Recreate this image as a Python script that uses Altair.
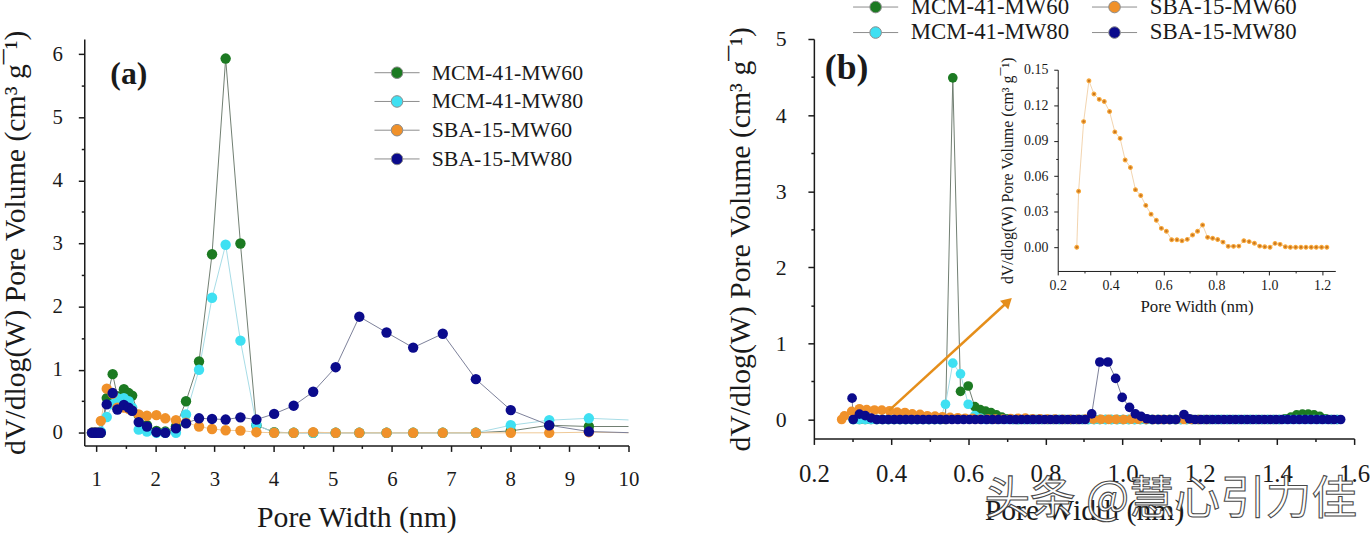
import altair as alt
import pandas as pd

# ---------------------------------------------------------------------------
# Series names and colours
# ---------------------------------------------------------------------------
SERIES = ["MCM-41-MW60", "MCM-41-MW80", "SBA-15-MW60", "SBA-15-MW80"]
MARKER_COLORS = ["#1c7a22", "#3fe0f2", "#f0912a", "#0b0b8c"]
LINE_COLORS = ["#6f7d70", "#a6dce6", "#efc896", "#7b8099"]

# ---------------------------------------------------------------------------
# Panel (a): pore size distribution, 1-10 nm
# ---------------------------------------------------------------------------
A_WIDTH = [0.93, 0.97, 1.00, 1.04, 1.08, 1.18, 1.28, 1.36, 1.47, 1.55,
           1.61, 1.72, 1.86, 2.02, 2.17, 2.35, 2.52, 2.74, 2.96, 3.19,
           3.44, 3.71, 4.01, 4.34, 4.67, 5.05, 5.45, 5.91, 6.36, 6.86,
           7.42, 8.01, 8.66, 9.33, 10.10]
A_MCM60 = [0, 0, 0, 0, 0, 0.55, 0.93, 0.58, 0.69, 0.63,
           0.59, 0.28, 0.12, 0.03, 0.02, 0.10, 0.50, 1.13, 2.83, 5.93,
           3.00, 0.12, 0.01, 0, 0, 0, 0, 0, 0, 0,
           0, 0.03, 0.12, 0.10, 0.10]
A_MCM80 = [0, 0, 0, 0, 0.02, 0.25, 0.45, 0.55, 0.55, 0.50,
           0.40, 0.05, 0.02, 0, 0, 0, 0.29, 1.00, 2.14, 2.98,
           1.46, 0.13, 0, 0, 0, 0, 0, 0, 0, 0,
           0, 0.12, 0.20, 0.23, 0.20]
A_SBA60 = [0, 0, 0, 0, 0.19, 0.70, 0.62, 0.40, 0.40, 0.38,
           0.35, 0.29, 0.27, 0.28, 0.23, 0.20, 0.16, 0.10, 0.06, 0.04,
           0.035, 0.01, 0, 0, 0.01, 0, 0, 0, 0, 0,
           0, 0, 0, 0.01, 0]
A_SBA80 = [0, 0, 0, 0, 0, 0.45, 0.63, 0.37, 0.44, 0.40,
           0.35, 0.17, 0.10, 0.01, 0, 0.07, 0.15, 0.23, 0.22, 0.21,
           0.245, 0.21, 0.30, 0.43, 0.65, 1.04, 1.84, 1.59, 1.35, 1.57,
           0.85, 0.36, 0.12, 0.02, 0]

# ---------------------------------------------------------------------------
# Panel (b): micropore region, 0.2-1.6 nm
# ---------------------------------------------------------------------------
B_MCM_WIDTH = [0.302, 0.318, 0.333, 0.348, 0.363, 0.378, 0.393, 0.408, 0.423, 0.438,
               0.453, 0.468, 0.483, 0.498, 0.513, 0.527, 0.541, 0.560, 0.580, 0.600,
               0.617, 0.631, 0.645, 0.659, 0.673, 0.687, 0.701, 0.716, 0.731, 0.746,
               0.761, 0.776, 0.791, 0.806, 0.821, 0.836, 0.851, 0.866, 0.881, 0.896,
               0.911, 0.926, 0.941, 0.956, 0.971, 0.986, 1.001, 1.016, 1.031, 1.046,
               1.061, 1.076, 1.091, 1.106, 1.121, 1.136, 1.151, 1.166, 1.181, 1.196,
               1.211, 1.226, 1.241, 1.256, 1.271, 1.286, 1.301, 1.316, 1.331, 1.346,
               1.361, 1.376, 1.391, 1.406, 1.421, 1.436, 1.451, 1.466, 1.481, 1.496,
               1.511, 1.526, 1.541, 1.556]
B_MCM60 = [0, 0, 0, 0, 0, 0, 0, 0, 0, 0,
           0, 0, 0, 0, 0, 0, 0, 4.49, 0.37, 0.44,
           0.17, 0.13, 0.11, 0.09, 0.06, 0.03, 0.01, 0, 0, 0,
           0, 0, 0, 0, 0, 0, 0, 0, 0, 0,
           0, 0, 0, 0, 0, 0, 0, 0, 0, 0,
           0, 0, 0, 0, 0, 0, 0, 0, 0, 0,
           0, 0, 0, 0, 0, 0, 0, 0, 0, 0,
           0, 0, 0, 0, 0.01, 0.03, 0.06, 0.07, 0.07, 0.06,
           0.04, 0.01, 0, 0]
B_MCM80 = [0, 0, 0, 0, 0, 0, 0, 0, 0, 0,
           0, 0, 0, 0, 0, 0, 0.20, 0.74, 0.60, 0.20,
           0.05, 0.02, 0, 0, 0, 0, 0, 0, 0, 0,
           0, 0, 0, 0, 0, 0, 0, 0, 0, 0,
           0, 0, 0, 0, 0, 0, 0, 0, 0, 0,
           0, 0, 0, 0, 0, 0, 0, 0, 0, 0,
           0, 0, 0, 0, 0, 0, 0, 0, 0, 0,
           0, 0, 0, 0, 0, 0, 0, 0, 0, 0,
           0, 0, 0, 0]

B_SBA80_WIDTH = [0.299, 0.302, 0.318, 0.333, 0.348, 0.363, 0.378, 0.393, 0.408, 0.423,
                 0.438, 0.453, 0.468, 0.483, 0.498, 0.513, 0.528, 0.543, 0.558, 0.573,
                 0.588, 0.603, 0.618, 0.633, 0.648, 0.663, 0.678, 0.693, 0.708, 0.723,
                 0.738, 0.753, 0.768, 0.783, 0.798, 0.813, 0.828, 0.843, 0.858, 0.873,
                 0.888, 0.903, 0.920, 0.941, 0.962, 0.982, 0.999, 1.018, 1.033, 1.048,
                 1.063, 1.078, 1.093, 1.108, 1.123, 1.138, 1.159, 1.173, 1.188, 1.203,
                 1.218, 1.233, 1.248, 1.263, 1.278, 1.293, 1.308, 1.323, 1.338, 1.353,
                 1.368, 1.383, 1.398, 1.413, 1.428, 1.443, 1.458, 1.473, 1.488, 1.503,
                 1.518, 1.533, 1.548, 1.565]
B_SBA80 = [0.28, 0, 0.07, 0.05, 0.02, 0, 0, 0, 0, 0,
           0, 0, 0, 0, 0, 0, 0, 0, 0, 0,
           0, 0, 0, 0, 0, 0, 0, 0, 0, 0,
           0, 0, 0, 0, 0, 0, 0, 0, 0, 0,
           0, 0, 0.074, 0.755, 0.755, 0.54, 0.29, 0.16, 0.074, 0.04,
           0.01, 0, 0, 0, 0, 0, 0.065, 0.01, 0, 0,
           0, 0, 0, 0, 0, 0, 0, 0, 0, 0,
           0, 0, 0, 0, 0, 0, 0, 0, 0, 0,
           0, 0, 0, 0]

# SBA-15-MW60 in the micropore range (also shown enlarged in the inset)
B_SBA60_WIDTH = [0.272, 0.279, 0.298, 0.318, 0.337, 0.357, 0.376, 0.396, 0.416, 0.436,
                 0.455, 0.475, 0.494, 0.514, 0.533, 0.553, 0.573, 0.592, 0.611, 0.631,
                 0.651, 0.670, 0.690, 0.710, 0.729, 0.748, 0.767, 0.786, 0.805, 0.825,
                 0.845, 0.865, 0.885, 0.904, 0.924, 0.944, 0.964, 0.983, 1.003, 1.022,
                 1.041, 1.061, 1.080, 1.100, 1.120, 1.139, 1.159, 1.178, 1.198, 1.218]
B_SBA60 = [0.0, 0.0474, 0.1062, 0.1407, 0.1295, 0.1250, 0.1232, 0.1147, 0.0975, 0.0920,
           0.0738, 0.0674, 0.0487, 0.0437, 0.0354, 0.0280, 0.0228, 0.0160, 0.0136, 0.0064,
           0.0064, 0.0055, 0.0067, 0.0104, 0.0136, 0.0188, 0.0084, 0.0076, 0.0066, 0.0044,
           0.0008, 0.0008, 0.0010, 0.0056, 0.0048, 0.0034, 0.0010, 0.0004, 0.0000, 0.0033,
           0.0025, 0.0004, 0.0, 0.0, 0.0, 0.0, 0.0, 0.0, 0.0, 0.0]

# Arrow pointing from the SBA-15-MW60 hump to the inset
ARROW_WIDTH = [0.395, 0.703]
ARROW_DV = [0.12, 1.55]

# Tick positions (majors carry labels, the rest are minor ticks)
A_XTICKS = [1.0, 1.5, 2.0, 2.5, 3.0, 3.5, 4.0, 4.5, 5.0, 5.5, 6.0, 6.5,
            7.0, 7.5, 8.0, 8.5, 9.0, 9.5, 10.0]
A_YTICKS = [0.0, 0.5, 1.0, 1.5, 2.0, 2.5, 3.0, 3.5, 4.0, 4.5, 5.0, 5.5, 6.0]
B_XTICKS = [0.2, 0.3, 0.4, 0.5, 0.6, 0.7, 0.8, 0.9, 1.0, 1.1, 1.2, 1.3, 1.4, 1.5, 1.6]
B_YTICKS = [0.0, 0.5, 1.0, 1.5, 2.0, 2.5, 3.0, 3.5, 4.0, 4.5, 5.0]
IN_XTICKS = [0.2, 0.3, 0.4, 0.5, 0.6, 0.7, 0.8, 0.9, 1.0, 1.1, 1.2]
IN_YTICKS = [0.0, 0.015, 0.03, 0.045, 0.06, 0.075, 0.09, 0.105, 0.12, 0.135, 0.15]

# the macron stands in for a raised minus sign, which the serif face lacks
Y_TITLE = "dV/dlog(W) Pore Volume (cm³ g¯¹)"
X_TITLE = "Pore Width (nm)"

SERIF = "Liberation Serif"
INK = "#1a1a1a"
ARROW_COLOR = "#e58e1a"

# Legend glyph: a short line with a dot in the middle
LEGEND_SYMBOL = ("M-3.5,0L-0.9,0M0.9,0L3.5,0"
                 "M0.9,0A0.9,0.9,0,1,1,-0.9,0A0.9,0.9,0,1,1,0.9,0Z")


def long_frame(names, xs_list, ys_list):
    rows = []
    for name, xs, ys in zip(names, xs_list, ys_list):
        for x, y in zip(xs, ys):
            rows.append({"series": name, "curve": name, "width": x, "dv": y})
    return pd.DataFrame(rows)


def axis(values, major, fmt, label_size, title, title_size, tick_major, tick_minor,
         line_width=1.5, **kw):
    return alt.Axis(
        values=values,
        labelExpr=f"({major}) ? format(datum.value, '{fmt}') : ''",
        tickSize={"condition": {"test": major, "value": tick_major}, "value": tick_minor},
        labelFont=SERIF, labelFontSize=label_size, labelColor=INK,
        title=title, titleFont=SERIF, titleFontSize=title_size,
        titleFontWeight="normal", titleColor=INK,
        domainColor=INK, domainWidth=line_width, tickColor=INK, tickWidth=line_width,
        grid=False, labelOverlap=False, labelFlush=False,
        **kw,
    )


def legend(x, y, font_size, **kw):
    return alt.Legend(
        orient="none", legendX=x, legendY=y,
        symbolType=LEGEND_SYMBOL, symbolSize=169,
        symbolStrokeColor="#8c8c8c", symbolStrokeWidth=1,
        labelFont=SERIF, labelFontSize=font_size, labelColor=INK,
        labelOffset=24, padding=0, **kw,
    )


INT_TEST = "datum.value % 1 == 0"
FIFTH_TEST = "abs(datum.value * 5 - round(datum.value * 5)) < 0.01"
IN_Y_TEST = "abs(datum.value / 0.03 - round(datum.value / 0.03)) < 0.01"

# ---------------------------------------------------------------------------
# Panel (a)
# ---------------------------------------------------------------------------
df_a = long_frame(SERIES, [A_WIDTH] * 4, [A_MCM60, A_MCM80, A_SBA60, A_SBA80])

ax_x = alt.X("width:Q", scale=alt.Scale(domain=[0.8, 10], nice=False, zero=False),
             axis=axis(A_XTICKS, INT_TEST, "d", 21, X_TITLE, 30, 6, 3,
                       labelPadding=17, titlePadding=14))
ax_y = alt.Y("dv:Q", scale=alt.Scale(domain=[-0.2, 6.24], nice=False, zero=False),
             axis=axis(A_YTICKS, INT_TEST, "d", 21, Y_TITLE, 30, 6, 3,
                       labelPadding=16, titlePadding=22))

# line colours come from a data-driven scale so that this legend-less scale
# is kept apart from the marker legend
lines_a = alt.Chart(df_a).mark_line(strokeWidth=1, clip=True).encode(
    x=ax_x, y=ax_y,
    stroke=alt.Stroke("curve:N", scale=alt.Scale(range=LINE_COLORS), legend=None),
)
points_a = alt.Chart(df_a).mark_circle(size=110, opacity=1, clip=True).encode(
    x=ax_x, y=ax_y,
    fill=alt.Fill("series:N", title="", scale=alt.Scale(domain=SERIES, range=MARKER_COLORS),
                  legend=legend(304.5, 23, 22, rowPadding=7)),
)
tag_a = alt.Chart(pd.DataFrame({"tag": ["(a)"]})).mark_text(
    font=SERIF, fontSize=32, fontWeight="bold", color=INK
).encode(text="tag:N", x=alt.value(45), y=alt.value(35))

panel_a = alt.layer(lines_a, points_a, tag_a).properties(width=549, height=410)

# ---------------------------------------------------------------------------
# Panel (b) with inset
# ---------------------------------------------------------------------------
df_b = long_frame(SERIES,
                  [B_MCM_WIDTH, B_MCM_WIDTH, B_SBA60_WIDTH, B_SBA80_WIDTH],
                  [B_MCM60, B_MCM80, B_SBA60, B_SBA80])
df_arrow = pd.DataFrame({"width": ARROW_WIDTH, "dv": ARROW_DV})
df_inset = pd.DataFrame({"width": B_SBA60_WIDTH, "dv": B_SBA60})

bx = alt.X("width:Q", scale=alt.Scale(domain=[0.2, 1.6], nice=False, zero=False),
           axis=axis(B_XTICKS, FIFTH_TEST, ".1f", 25, X_TITLE, 30, 6, 3,
                     labelPadding=17, titlePadding=10))
by = alt.Y("dv:Q", scale=alt.Scale(domain=[-0.25, 5.0], nice=False, zero=False),
           axis=axis(B_YTICKS, INT_TEST, "d", 22, Y_TITLE, 30, 6, 3,
                     labelPadding=22, titlePadding=20))

lines_b = alt.Chart(df_b).mark_line(strokeWidth=1).encode(
    x=bx, y=by,
    stroke=alt.Stroke("curve:N", scale=alt.Scale(range=LINE_COLORS), legend=None),
)
# two-column legend, filled column by column
points_b = alt.Chart(df_b).mark_circle(size=95, opacity=1).encode(
    x=bx, y=by,
    fill=alt.Fill("series:N", title="", scale=alt.Scale(domain=SERIES, range=MARKER_COLORS),
                  legend=legend(50.8, -44, 23, columns=2, columnPadding=20, rowPadding=2)),
)
arrow_line = alt.Chart(df_arrow).mark_line(color=ARROW_COLOR, strokeWidth=2.5).encode(x=bx, y=by)
arrow_head = alt.Chart(df_arrow.tail(1)).mark_point(
    shape="triangle-up", filled=True, size=150, angle=47, color=ARROW_COLOR, opacity=1
).encode(x=bx, y=by)
tag_b = alt.Chart(pd.DataFrame({"tag": ["(b)"]})).mark_text(
    font=SERIF, fontSize=36, fontWeight="bold", color=INK
).encode(text="tag:N", x=alt.value(33), y=alt.value(29))
watermark = alt.Chart(pd.DataFrame({"tag": ["头条 @慧心引力佳"]})).mark_text(
    font="Noto Sans CJK SC", fontSize=46, fill="white", stroke="#3a3a3a",
    strokeWidth=1.1, opacity=0.92
).encode(text="tag:N", x=alt.value(360), y=alt.value(465))

main_b = alt.layer(lines_b, points_b, arrow_line, arrow_head, tag_b)

ix = alt.X("width:Q",
           scale=alt.Scale(domain=[0.2, 1.25], range=[246, 526], nice=False, zero=False),
           axis=axis(IN_XTICKS, FIFTH_TEST, ".1f", 14, X_TITLE, 17, 4, 2, line_width=1,
                     orient="bottom", offset=-169, labelPadding=4, titlePadding=6))
iy = alt.Y("dv:Q",
           scale=alt.Scale(domain=[-0.02, 0.15], range=[234, 31], nice=False, zero=False),
           axis=axis(IN_YTICKS, IN_Y_TEST, ".2f", 14, Y_TITLE, 16, 4, 2, line_width=1,
                     orient="left", offset=-246, labelPadding=6, titlePadding=8))
inset_line = alt.Chart(df_inset).mark_line(color="#efc99a", strokeWidth=0.8).encode(x=ix, y=iy)
inset_points = alt.Chart(df_inset).mark_point(
    filled=True, size=14, fill="#c8741e", stroke="#f7a83a", strokeWidth=1.2, opacity=1
).encode(x=ix, y=iy)
inset = alt.layer(inset_line, inset_points)

panel_b = (
    alt.layer(main_b, inset, watermark)
    .resolve_scale(x="independent", y="independent")
    .resolve_axis(x="independent", y="independent")
    .properties(width=545, height=403)
)

# the top row of the (b) legend runs slightly past the upper edge
chart = (
    alt.hconcat(panel_a, panel_b, spacing=187, bounds="flush")
    .resolve_scale(fill="independent", stroke="independent")
    .resolve_legend(fill="independent")
    .properties(padding={"left": 0, "top": -7, "right": 0, "bottom": 0})
    .configure_view(strokeWidth=0)
)

chart.save("out.html", embed_options={"renderer": "svg", "actions": False})
